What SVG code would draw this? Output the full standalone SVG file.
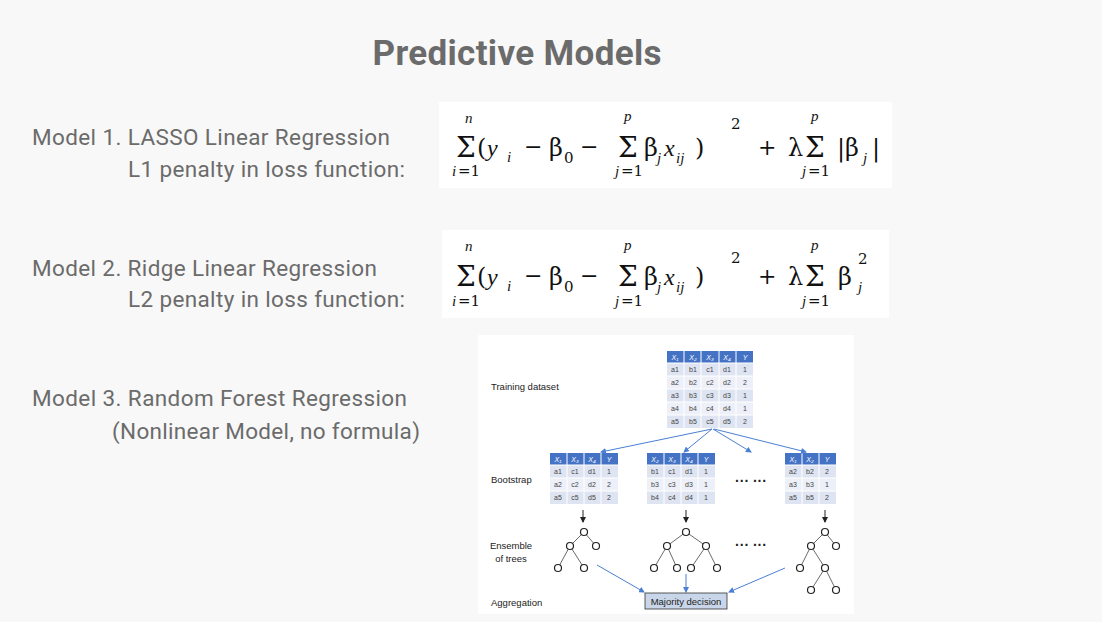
<svg xmlns="http://www.w3.org/2000/svg" width="1102" height="622" viewBox="0 0 1102 622">
<defs>
<style>
.lbl{font-family:Roboto,"Liberation Sans",sans-serif;font-size:22.5px;fill:#6b6b6b}
.m{font-family:"DejaVu Serif","Liberation Serif",serif;fill:#111}
.mi{font-family:"Liberation Serif",serif;font-style:italic;fill:#111}
.s{font-size:15px}
.f{font-family:"Liberation Sans",Arial,sans-serif;font-size:9.5px;fill:#222}
.c{font-family:"Liberation Sans",Arial,sans-serif;font-size:7px;fill:#444;text-anchor:middle}
.h{font-family:"Liberation Sans",Arial,sans-serif;font-size:7px;fill:#fff;text-anchor:middle;font-style:italic}
.ln{stroke:#4a7fd4;stroke-width:1;fill:none}
.tr{stroke:#444;stroke-width:0.8;fill:none}
.nd{stroke:#222;stroke-width:1.2;fill:#fff}
</style>
<marker id="a" markerWidth="6" markerHeight="6" refX="5" refY="3" orient="auto"><path d="M0,0L6,3L0,6z" fill="#4a7fd4"/></marker>
<marker id="k" markerWidth="6" markerHeight="6" refX="5" refY="3" orient="auto"><path d="M0,0L6,3L0,6z" fill="#222"/></marker>
</defs>
<rect width="1102" height="622" fill="#f8f8f8"/>
<text x="517" y="65" text-anchor="middle" font-family="Roboto,'Liberation Sans',sans-serif" font-weight="bold" font-size="35" fill="#6b6b6b" textLength="289">Predictive Models</text>

<g id="labels">
<text class="lbl" x="32" y="145" textLength="358">Model 1. LASSO Linear Regression</text>
<text class="lbl" x="128" y="177" textLength="277">L1 penalty in loss function:</text>
<text class="lbl" x="32" y="276" textLength="345">Model 2. Ridge Linear Regression</text>
<text class="lbl" x="128" y="307" textLength="277">L2 penalty in loss function:</text>
<text class="lbl" x="32" y="406" textLength="375">Model 3. Random Forest Regression</text>
<text class="lbl" x="112" y="439" textLength="308">(Nonlinear Model, no formula)</text>
</g>

<g id="formula1">
<rect x="439" y="102" width="453" height="86" fill="#fff"/>
<text class="m" x="456" y="157" font-size="28">Σ</text>
<text class="mi s" x="465" y="123">n</text>
<text class="mi s" x="452" y="176">i</text><text class="m s" x="458" y="176">=1</text>
<text class="m" x="477" y="156" font-size="24">(</text>
<text class="mi" x="487" y="156" font-size="24">y</text>
<text class="mi s" x="507" y="162">i</text>
<text class="m" x="524" y="154" font-size="22">−</text>
<text class="m" x="549" y="156" font-size="24">β</text>
<text class="m s" x="564" y="163">0</text>
<text class="m" x="580" y="154" font-size="22">−</text>
<text class="m" x="618" y="157" font-size="28">Σ</text>
<text class="mi s" x="624" y="121">p</text>
<text class="mi s" x="615" y="176">j</text><text class="m s" x="621" y="176">=1</text>
<text class="m" x="644" y="156" font-size="24">β</text>
<text class="mi s" x="657" y="163">j</text>
<text class="mi" x="664" y="156" font-size="24">x</text>
<text class="mi s" x="676" y="163">ij</text>
<text class="m" x="695" y="156" font-size="24">)</text>
<text class="m s" x="731" y="129">2</text>
<text class="m" x="758" y="155" font-size="22">+</text>
<text class="m" x="788" y="156" font-size="24">λ</text>
<text class="m" x="805" y="157" font-size="28">Σ</text>
<text class="mi s" x="811" y="121">p</text>
<text class="mi s" x="802" y="176">j</text><text class="m s" x="808" y="176">=1</text>
<text class="m" x="837" y="156" font-size="24">|β</text>
<text class="mi s" x="863" y="163">j</text>
<text class="m" x="872" y="156" font-size="24">|</text>
</g>

<g id="formula2">
<rect x="442" y="230" width="447" height="88" fill="#fff"/>
<text class="m" x="456" y="286" font-size="28">Σ</text>
<text class="mi s" x="465" y="251">n</text>
<text class="mi s" x="452" y="306">i</text><text class="m s" x="458" y="306">=1</text>
<text class="m" x="477" y="285" font-size="24">(</text>
<text class="mi" x="487" y="285" font-size="24">y</text>
<text class="mi s" x="507" y="291">i</text>
<text class="m" x="524" y="283" font-size="22">−</text>
<text class="m" x="549" y="285" font-size="24">β</text>
<text class="m s" x="564" y="292">0</text>
<text class="m" x="580" y="283" font-size="22">−</text>
<text class="m" x="618" y="286" font-size="28">Σ</text>
<text class="mi s" x="624" y="250">p</text>
<text class="mi s" x="615" y="306">j</text><text class="m s" x="621" y="306">=1</text>
<text class="m" x="644" y="285" font-size="24">β</text>
<text class="mi s" x="657" y="292">j</text>
<text class="mi" x="664" y="285" font-size="24">x</text>
<text class="mi s" x="676" y="292">ij</text>
<text class="m" x="695" y="285" font-size="24">)</text>
<text class="m s" x="731" y="263">2</text>
<text class="m" x="758" y="284" font-size="22">+</text>
<text class="m" x="788" y="285" font-size="24">λ</text>
<text class="m" x="805" y="286" font-size="28">Σ</text>
<text class="mi s" x="811" y="250">p</text>
<text class="mi s" x="802" y="306">j</text><text class="m s" x="808" y="306">=1</text>
<text class="m" x="838" y="285" font-size="24">β</text>
<text class="m s" x="858" y="264">2</text>
<text class="mi s" x="858" y="292">j</text>
</g>

<g id="forest">
<rect x="478" y="335" width="376" height="279" fill="#fff"/>
<text class="f" x="491" y="390">Training dataset</text>
<text class="f" x="491" y="483">Bootstrap</text>
<text class="f" x="511" y="549" text-anchor="middle">Ensemble</text>
<text class="f" x="511" y="562" text-anchor="middle">of trees</text>
<text class="f" x="491" y="606">Aggregation</text>

<g id="train">
<rect x="667" y="351" width="86" height="12" fill="#4472c4"/>
<rect x="667" y="363" width="86" height="13" fill="#dfe4f2"/>
<rect x="667" y="376" width="86" height="13" fill="#edf0f8"/>
<rect x="667" y="389" width="86" height="13" fill="#dfe4f2"/>
<rect x="667" y="402" width="86" height="13" fill="#edf0f8"/>
<rect x="667" y="415" width="86" height="13" fill="#dfe4f2"/>
<g stroke="#fff" stroke-width="1"><path d="M684 351V428M701 351V428M719 351V428M736 351V428M667 363H753M667 376H753M667 389H753M667 402H753M667 415H753"/></g>
<text class="h" x="675" y="360">X₁</text><text class="h" x="693" y="360">X₂</text><text class="h" x="710" y="360">X₃</text><text class="h" x="727" y="360">X₄</text><text class="h" x="745" y="360">Y</text>
<text class="c" x="675" y="372">a1</text><text class="c" x="693" y="372">b1</text><text class="c" x="710" y="372">c1</text><text class="c" x="727" y="372">d1</text><text class="c" x="745" y="372">1</text>
<text class="c" x="675" y="385">a2</text><text class="c" x="693" y="385">b2</text><text class="c" x="710" y="385">c2</text><text class="c" x="727" y="385">d2</text><text class="c" x="745" y="385">2</text>
<text class="c" x="675" y="398">a3</text><text class="c" x="693" y="398">b3</text><text class="c" x="710" y="398">c3</text><text class="c" x="727" y="398">d3</text><text class="c" x="745" y="398">1</text>
<text class="c" x="675" y="411">a4</text><text class="c" x="693" y="411">b4</text><text class="c" x="710" y="411">c4</text><text class="c" x="727" y="411">d4</text><text class="c" x="745" y="411">1</text>
<text class="c" x="675" y="424">a5</text><text class="c" x="693" y="424">b5</text><text class="c" x="710" y="424">c5</text><text class="c" x="727" y="424">d5</text><text class="c" x="745" y="424">2</text>
</g>

<g id="boot1">
<rect x="550" y="453" width="68" height="12" fill="#4472c4"/>
<rect x="550" y="465" width="68" height="13" fill="#dfe4f2"/>
<rect x="550" y="478" width="68" height="13" fill="#edf0f8"/>
<rect x="550" y="491" width="68" height="13" fill="#dfe4f2"/>
<path d="M567 453V504M584 453V504M601 453V504M550 465H618M550 478H618M550 491H618" stroke="#fff"/>
<text class="h" x="558" y="462">X₁</text><text class="h" x="575" y="462">X₃</text><text class="h" x="592" y="462">X₄</text><text class="h" x="609" y="462">Y</text>
<text class="c" x="558" y="474">a1</text><text class="c" x="575" y="474">c1</text><text class="c" x="592" y="474">d1</text><text class="c" x="609" y="474">1</text>
<text class="c" x="558" y="487">a2</text><text class="c" x="575" y="487">c2</text><text class="c" x="592" y="487">d2</text><text class="c" x="609" y="487">2</text>
<text class="c" x="558" y="500">a5</text><text class="c" x="575" y="500">c5</text><text class="c" x="592" y="500">d5</text><text class="c" x="609" y="500">2</text>
</g>
<g id="boot2">
<rect x="647" y="453" width="68" height="12" fill="#4472c4"/>
<rect x="647" y="465" width="68" height="13" fill="#dfe4f2"/>
<rect x="647" y="478" width="68" height="13" fill="#edf0f8"/>
<rect x="647" y="491" width="68" height="13" fill="#dfe4f2"/>
<path d="M664 453V504M681 453V504M698 453V504M647 465H715M647 478H715M647 491H715" stroke="#fff"/>
<text class="h" x="655" y="462">X₂</text><text class="h" x="672" y="462">X₃</text><text class="h" x="689" y="462">X₄</text><text class="h" x="706" y="462">Y</text>
<text class="c" x="655" y="474">b1</text><text class="c" x="672" y="474">c1</text><text class="c" x="689" y="474">d1</text><text class="c" x="706" y="474">1</text>
<text class="c" x="655" y="487">b3</text><text class="c" x="672" y="487">c3</text><text class="c" x="689" y="487">d3</text><text class="c" x="706" y="487">1</text>
<text class="c" x="655" y="500">b4</text><text class="c" x="672" y="500">c4</text><text class="c" x="689" y="500">d4</text><text class="c" x="706" y="500">1</text>
</g>
<g id="boot3">
<rect x="785" y="453" width="51" height="12" fill="#4472c4"/>
<rect x="785" y="465" width="51" height="13" fill="#dfe4f2"/>
<rect x="785" y="478" width="51" height="13" fill="#edf0f8"/>
<rect x="785" y="491" width="51" height="13" fill="#dfe4f2"/>
<path d="M802 453V504M819 453V504M785 465H836M785 478H836M785 491H836" stroke="#fff"/>
<text class="h" x="793" y="462">X₁</text><text class="h" x="810" y="462">X₂</text><text class="h" x="827" y="462">Y</text>
<text class="c" x="793" y="474">a2</text><text class="c" x="810" y="474">b2</text><text class="c" x="827" y="474">2</text>
<text class="c" x="793" y="487">a3</text><text class="c" x="810" y="487">b3</text><text class="c" x="827" y="487">1</text>
<text class="c" x="793" y="500">a5</text><text class="c" x="810" y="500">b5</text><text class="c" x="827" y="500">2</text>
</g>
<text x="751" y="486" text-anchor="middle" font-family="Liberation Sans,sans-serif" font-size="14" font-weight="bold" fill="#222">··· ···</text>
<text x="751" y="550" text-anchor="middle" font-family="Liberation Sans,sans-serif" font-size="14" font-weight="bold" fill="#222">··· ···</text>

<g id="connectors">
<path class="ln" d="M712 429L601 452" marker-end="url(#a)"/>
<path class="ln" d="M712 429L684 452" marker-end="url(#a)"/>
<path class="ln" d="M713 429L751 452" marker-end="url(#a)"/>
<path class="ln" d="M714 429L806 452" marker-end="url(#a)"/>
<path d="M583 510V522" stroke="#222" marker-end="url(#k)"/>
<path d="M686 510V522" stroke="#222" marker-end="url(#k)"/>
<path d="M825 510V522" stroke="#222" marker-end="url(#k)"/>
<path class="ln" d="M597 565L644 592" marker-end="url(#a)"/>
<path class="ln" d="M686 574V592" marker-end="url(#a)"/>
<path class="ln" d="M785 568L729 592" marker-end="url(#a)"/>
</g>

<g id="tree1">
<path class="tr" d="M584 532L570 546M584 532L596 546M570 546L558 568M570 546L584 568"/>
<circle class="nd" cx="584" cy="532" r="3.5"/><circle class="nd" cx="570" cy="546" r="3.5"/><circle class="nd" cx="596" cy="546" r="3.5"/><circle class="nd" cx="558" cy="568" r="3.5"/><circle class="nd" cx="584" cy="568" r="3.5"/>
</g>
<g id="tree2">
<path class="tr" d="M686 532L667 546M686 532L706 546M667 546L654 568M667 546L677 568M706 546L691 568M706 546L717 568"/>
<circle class="nd" cx="686" cy="532" r="3.5"/><circle class="nd" cx="667" cy="546" r="3.5"/><circle class="nd" cx="706" cy="546" r="3.5"/><circle class="nd" cx="654" cy="568" r="3.5"/><circle class="nd" cx="677" cy="568" r="3.5"/><circle class="nd" cx="691" cy="568" r="3.5"/><circle class="nd" cx="717" cy="568" r="3.5"/>
</g>
<g id="tree3">
<path class="tr" d="M825 532L811 546M825 532L836 546M811 546L800 568M811 546L825 568M825 568L811 590M825 568L836 590"/>
<circle class="nd" cx="825" cy="532" r="3.5"/><circle class="nd" cx="811" cy="546" r="3.5"/><circle class="nd" cx="836" cy="546" r="3.5"/><circle class="nd" cx="800" cy="568" r="3.5"/><circle class="nd" cx="825" cy="568" r="3.5"/><circle class="nd" cx="811" cy="590" r="3.5"/><circle class="nd" cx="836" cy="590" r="3.5"/>
</g>
<g id="majority">
<rect x="645" y="593" width="82" height="16" fill="#c9d6ea" stroke="#333" stroke-width="0.8"/>
<text x="686" y="605" text-anchor="middle" font-family="Liberation Sans,sans-serif" font-size="9.5" fill="#222">Majority decision</text>
</g>
</g>
</svg>
